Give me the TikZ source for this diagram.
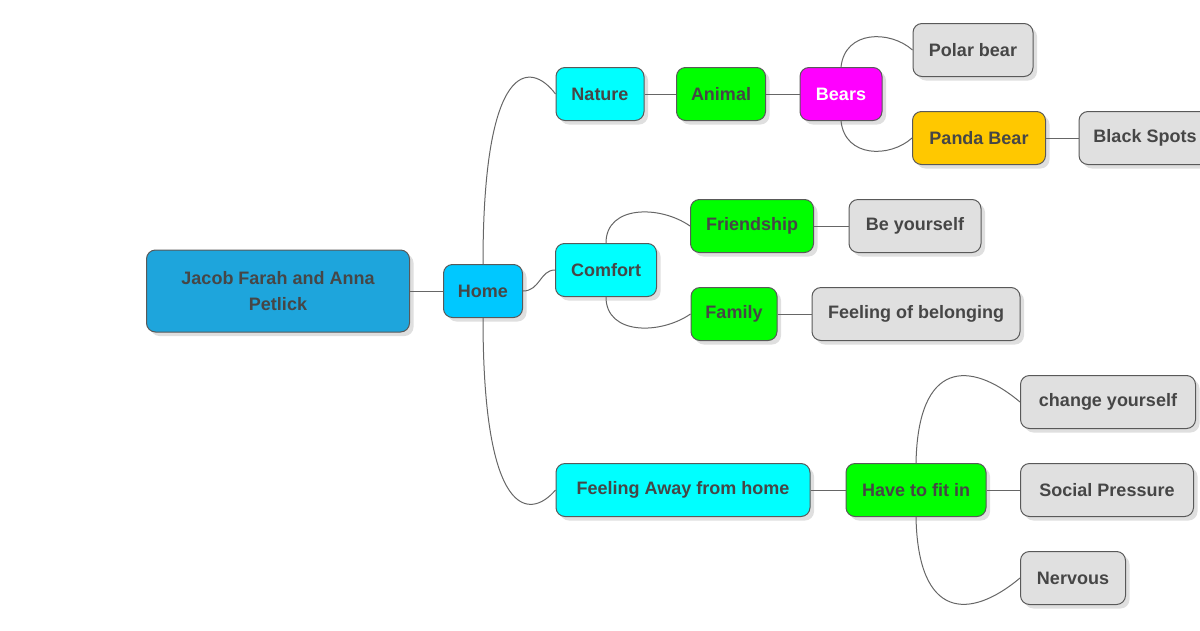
\documentclass[tikz,border=0pt]{standalone}
\usepackage{fontspec}
\setmainfont{Liberation Sans}
\usetikzlibrary{shadows}
\definecolor{rootblue}{RGB}{30,165,220}
\definecolor{homeblue}{RGB}{0,200,255}
\definecolor{leafgray}{RGB}{224,224,224}
\definecolor{pandaorange}{RGB}{255,200,0}
\definecolor{ideacyan}{RGB}{0,255,255}
\definecolor{ideagreen}{RGB}{0,255,0}
\definecolor{ideamagenta}{RGB}{255,0,255}
\definecolor{textgray}{RGB}{70,70,70}
\tikzset{
  idea/.style={draw=gray!70!black, line width=1pt, rounded corners=9pt,
    minimum height=53pt, inner xsep=0pt, font=\bfseries\fontsize{18}{22}\selectfont,
    text=textgray, drop shadow={shadow xshift=4pt, shadow yshift=-4pt, fill=black!25}},
  link/.style={draw=gray!80!black, line width=1pt}
}
\begin{document}
\begin{tikzpicture}[x=1pt,y=-1pt]
  \useasboundingbox (0,0) rectangle (1200,630);

  \node[idea, fill=rootblue, minimum width=263pt, minimum height=82pt, align=center] (root) at (278,291) {Jacob Farah and Anna\\[4pt]Petlick};
  \node[idea, fill=homeblue, minimum width=79pt] (home) at (483,291) {Home};

  \node[idea, fill=ideacyan, minimum width=88pt] (nature) at (600,94) {Nature};
  \node[idea, fill=ideagreen, minimum width=89pt] (animal) at (721,94) {Animal};
  \node[idea, fill=ideamagenta, text=white, minimum width=82pt] (bears) at (841,94) {Bears};
  \node[idea, fill=leafgray, minimum width=120pt] (polar) at (973,50) {Polar bear};
  \node[idea, fill=pandaorange, minimum width=133pt] (panda) at (979,138) {Panda Bear};
  \node[idea, fill=leafgray, minimum width=132pt] (spots) at (1145,138) {Black Spots};

  \node[idea, fill=ideacyan, minimum width=101pt] (comfort) at (606,270) {Comfort};
  \node[idea, fill=ideagreen, minimum width=123pt] (friend) at (752,226) {Friendship};
  \node[idea, fill=leafgray, minimum width=132pt] (beyou) at (915,226) {Be yourself};
  \node[idea, fill=ideagreen, minimum width=86pt] (family) at (734,314) {Family};
  \node[idea, fill=leafgray, minimum width=208pt] (belong) at (916,314) {Feeling of belonging};

  \node[idea, fill=ideacyan, minimum width=254pt] (away) at (683,490) {Feeling Away from home};
  \node[idea, fill=ideagreen, minimum width=140pt] (fitin) at (916,490) {Have to fit in};
  \node[idea, fill=leafgray, minimum width=175pt] (change) at (1108,402) {change yourself};
  \node[idea, fill=leafgray, minimum width=173pt] (social) at (1107,490) {Social Pressure};
  \node[idea, fill=leafgray, minimum width=105pt] (nervous) at (1073,578) {Nervous};

  % connectors
  \path[link] (root.east) -- (home.west);
  \path[link] (home.north) .. controls (483,60) and (530,60) .. (nature.west);
  \path[link] (home.east) .. controls (540,291) and (540,270) .. (comfort.west);
  \path[link] (home.south) .. controls (483,520) and (530,520) .. (away.west);
  \path[link] (nature.east) -- (animal.west);
  \path[link] (animal.east) -- (bears.west);
  \path[link] (bears.north) .. controls (845,30) and (890,30) .. (polar.west);
  \path[link] (bears.south) .. controls (845,158) and (890,158) .. (panda.west);
  \path[link] (panda.east) -- (spots.west);
  \path[link] (comfort.north) .. controls (606,205) and (660,205) .. (friend.west);
  \path[link] (comfort.south) .. controls (606,335) and (660,335) .. (family.west);
  \path[link] (friend.east) -- (beyou.west);
  \path[link] (family.east) -- (belong.west);
  \path[link] (away.east) -- (fitin.west);
  \path[link] (fitin.north) .. controls (918,360) and (970,360) .. (change.west);
  \path[link] (fitin.east) -- (social.west);
  \path[link] (fitin.south) .. controls (918,620) and (970,620) .. (nervous.west);
\end{tikzpicture}
\end{document}
